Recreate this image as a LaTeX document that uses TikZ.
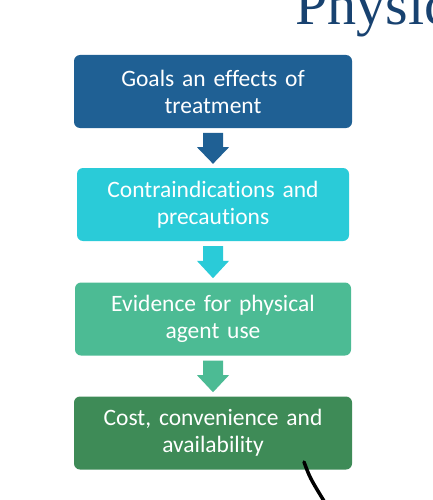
\documentclass[tikz,border=0pt]{standalone}
\usepackage{fontspec}
\setmainfont{Carlito}[Ligatures=NoCommon]
\newfontfamily\titlefont{Liberation Serif}
\definecolor{cA}{RGB}{31,96,148}
\definecolor{cB}{RGB}{42,203,216}
\definecolor{cC}{RGB}{76,187,148}
\definecolor{cD}{RGB}{62,139,87}
\definecolor{cT}{RGB}{24,66,112}
\begin{document}
\begin{tikzpicture}[x=1pt,y=-1pt,
  stepbox/.style={rounded corners=6pt, minimum width=278pt, minimum height=73pt,
    text width=260pt, align=center, text=white, inner sep=0pt,
    font=\fontsize{23.5}{27}\selectfont},
  blockarrow/.style={inner sep=0pt}]
\useasboundingbox (0,0) rectangle (433,500);
\clip (0,0) rectangle (433,500);
\node[anchor=base west, text=cT, inner sep=0pt, font=\titlefont\fontsize{58}{60}\selectfont] (title) at (295,25) {Physic};
\node[stepbox, fill=cA] (b1) at (213,91.5) {Goals an effects of\\treatment};
\node[stepbox, fill=cB, minimum width=272pt] (b2) at (213,204.5) {Contraindications and\\precautions};
\node[stepbox, fill=cC, minimum width=276pt] (b3) at (213,319) {Evidence for physical\\agent use};
\node[stepbox, fill=cD] (b4) at (213,433) {Cost, convenience and\\availability};
\foreach \a/\b/\c in {b1/b2/cA, b2/b3/cB, b3/b4/cC}{
  \path (\a.south) -- (\b.north) coordinate[pos=0.12] (s\a) coordinate[pos=0.48] (m\a) coordinate[pos=0.9] (t\a);
  \fill[\c] ([xshift=-10pt]s\a) -- ([xshift=10pt]s\a) -- ([xshift=10pt]m\a) -- ([xshift=16pt]m\a)
     -- (t\a) -- ([xshift=-16pt]m\a) -- ([xshift=-10pt]m\a) -- cycle;
}
\coordinate (p1) at (304,462);
\coordinate (p2) at (324,501);
\draw[line width=3.5pt, line cap=round] (p1) .. controls (310,478) .. (p2);
\end{tikzpicture}
\end{document}
